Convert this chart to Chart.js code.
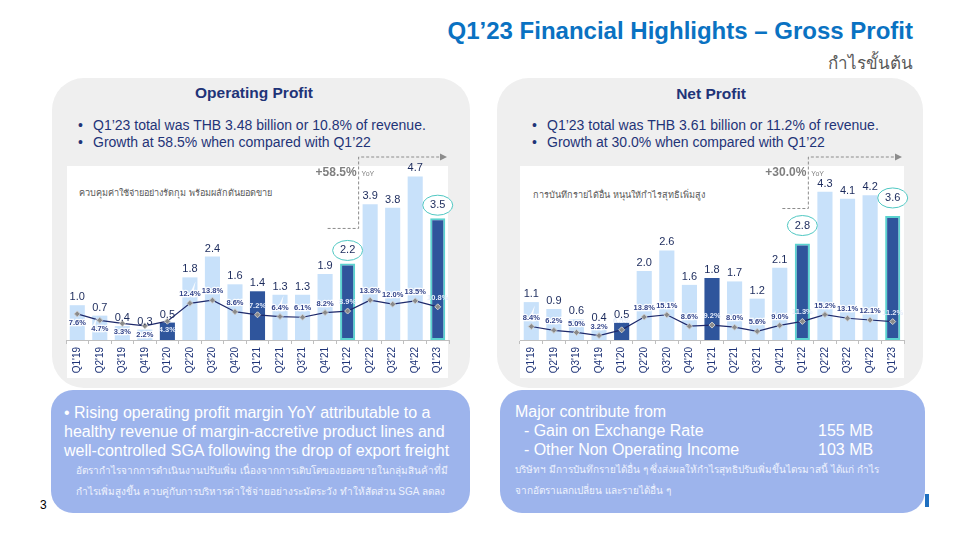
<!DOCTYPE html>
<html>
<head>
<meta charset="utf-8">
<script src="https://cdn.jsdelivr.net/npm/chart.js@4.4.0/dist/chart.umd.min.js"></script>
<style>
  body { margin: 0; width: 960px; height: 540px; background: #fff; position: relative; overflow: hidden;
         font-family: "Liberation Sans", Arial, sans-serif; }
  .abs { position: absolute; }
  .title { right: 47px; top: 17px; font-size: 24px; font-weight: bold; color: #0a72c2; }
  .subtitle { right: 47px; top: 49px; font-size: 17px; color: #595959; }
  .card { background: #efefef; border-radius: 32px; }
  .plot { background: #fff; }
  .ptitle { font-size: 15.5px; font-weight: bold; color: #1f3478; text-align: center; }
  .bullets { font-size: 14px; color: #1f3478; line-height: 17px; }
  .bullets div { position: relative; padding-left: 15px; }
  .bullets div::before { content: "•"; position: absolute; left: 0; }
  .note { font-size: 9.1px; color: #595959; }
  .blue { background: #9db4ec; border-radius: 22px; color: #fff; }
  .en { font-size: 16px; line-height: 19px; }
  .th { font-size: 10px; line-height: 21px; color: #eef2fd; }
</style>
</head>
<body>
<script>
// quarters shown on the x axis
const quarters = ["Q1'19","Q2'19","Q3'19","Q4'19","Q1'20","Q2'20","Q3'20","Q4'20",
                  "Q1'21","Q2'21","Q3'21","Q4'21","Q1'22","Q2'22","Q3'22","Q4'22","Q1'23"];
// operating profit, THB billion, and margin %
const opProfit = [1.0, 0.7, 0.4, 0.3, 0.5, 1.8, 2.4, 1.6, 1.4, 1.3, 1.3, 1.9, 2.2, 3.9, 3.8, 4.7, 3.5];
const opMargin = [7.6, 4.7, 3.3, 2.2, 4.3, 12.4, 13.8, 8.6, 7.2, 6.4, 6.1, 8.2, 8.9, 13.8, 12.0, 13.5, 10.8];
// net profit, THB billion, and margin %
const netProfit = [1.1, 0.9, 0.6, 0.4, 0.5, 2.0, 2.6, 1.6, 1.8, 1.7, 1.2, 2.1, 2.8, 4.3, 4.1, 4.2, 3.6];
const netMargin = [8.4, 6.2, 5.0, 3.2, 6.5, 13.8, 15.1, 8.6, 9.2, 8.0, 5.6, 9.0, 11.3, 15.2, 13.1, 12.1, 11.2];
// Q1 bars drawn dark, and the two compared quarters circled
const highlightIdx = [4, 8, 12, 16];
const circledIdx = [12, 16];
</script>

<div class="abs title">Q1’23 Financial Highlights – Gross Profit</div>
<div class="abs subtitle">กำไรขั้นต้น</div>

<div class="abs card" style="left:52px;top:78px;width:418px;height:310px"></div>
<div class="abs card" style="left:497px;top:78px;width:426px;height:310px"></div>
<div class="abs plot" style="left:67px;top:166px;width:381px;height:212px"></div>
<div class="abs plot" style="left:520px;top:166px;width:384px;height:212px"></div>

<div class="abs ptitle" style="left:52px;top:84px;width:404px">Operating Profit</div>
<div class="abs ptitle" style="left:497px;top:85px;width:428px">Net Profit</div>

<div class="abs bullets" style="left:78px;top:117px">
  <div>Q1’23 total was THB 3.48 billion or 10.8% of revenue.</div>
  <div>Growth at 58.5% when compared with Q1’22</div>
</div>
<div class="abs bullets" style="left:532px;top:117px">
  <div>Q1’23 total was THB 3.61 billion or 11.2% of revenue.</div>
  <div>Growth at 30.0% when compared with Q1’22</div>
</div>

<div class="abs note" style="left:79px;top:186px">ควบคุมค่าใช้จ่ายอย่างรัดกุม พร้อมผลักดันยอดขาย</div>
<div class="abs note" style="left:533px;top:188px">การบันทึกรายได้อื่น หนุนให้กำไรสุทธิเพิ่มสูง</div>

<canvas id="opChart" class="abs" width="410" height="234" style="left:56px;top:146px"></canvas>
<canvas id="netChart" class="abs" width="410" height="234" style="left:510px;top:146px"></canvas>

<div class="abs blue" style="left:51px;top:390px;width:419px;height:123px"></div>
<div class="abs blue" style="left:500px;top:390px;width:425px;height:123px"></div>

<div class="abs en" style="left:64px;top:403px;color:#fff">• Rising operating profit margin YoY attributable to a<br>healthy revenue of margin-accretive product lines and<br>well-controlled SGA following the drop of export freight</div>
<div class="abs th" style="left:76px;top:460px">อัตรากำไรจากการดำเนินงานปรับเพิ่ม เนื่องจากการเติบโตของยอดขายในกลุ่มสินค้าที่มี<br>กำไรเพิ่มสูงขึ้น ควบคู่กับการบริหารค่าใช้จ่ายอย่างระมัดระวัง ทำให้สัดส่วน SGA ลดลง</div>

<div class="abs en" style="left:515px;top:402px;color:#fff">Major contribute from<br>&nbsp;&nbsp;- Gain on Exchange Rate<br>&nbsp;&nbsp;- Other Non Operating Income</div>
<div class="abs en" style="left:818px;top:421px;color:#fff">155 MB<br>103 MB</div>
<div class="abs th" style="left:515px;top:459px">บริษัทฯ มีการบันทึกรายได้อื่น ๆ ซึ่งส่งผลให้กำไรสุทธิปรับเพิ่มขึ้นไตรมาสนี้ ได้แก่ กำไร<br>จากอัตราแลกเปลี่ยน และรายได้อื่น ๆ</div>

<div class="abs" style="left:40px;top:498px;font-size:12px;color:#000">3</div>
<div class="abs" style="left:925px;top:494px;width:4px;height:13px;background:#1f6fc0"></div>

<script>
// labels, circles and the YoY bracket
const labelsPlugin = {
  id: 'valueLabels',
  afterDatasetsDraw(chart, args, o) {
    const ctx = chart.ctx;
    const bars = chart.getDatasetMeta(0).data;
    const pts = chart.getDatasetMeta(1).data;
    const vals = chart.data.datasets[0].data;
    const pcts = chart.data.datasets[1].data;
    ctx.save();
    ctx.textAlign = 'center';
    ctx.textBaseline = 'middle';

    // margin labels
    ctx.font = 'bold 7.5px "Liberation Sans", Arial';
    pts.forEach((p, i) => {
      const txt = pcts[i].toFixed(1) + '%';
      const y = i < o.belowUntil ? p.y + 9 : p.y - 9;
      const dark = highlightIdx.includes(i);
      if (!dark) {
        ctx.lineWidth = 2.5;
        ctx.strokeStyle = 'rgba(255,255,255,0.9)';
        ctx.strokeText(txt, p.x, y);
      }
      ctx.fillStyle = dark ? '#e4ecfb' : '#34458a';
      ctx.fillText(txt, p.x, y);
    });

    // bar values
    ctx.font = '11px "Liberation Sans", Arial';
    bars.forEach((b, i) => {
      const circ = circledIdx.includes(i);
      const y = b.y - (circ ? o.circleOff : 8);
      if (circ) {
        ctx.beginPath();
        ctx.ellipse(b.x, y, 15, 10, 0, 0, Math.PI * 2);
        ctx.fillStyle = '#fff';
        ctx.fill();
        ctx.strokeStyle = '#4fc7c2';
        ctx.lineWidth = 1;
        ctx.stroke();
      }
      ctx.fillStyle = '#1b2a5c';
      ctx.fillText(vals[i].toFixed(1), b.x, y);
    });

    // YoY bracket
    const ca = chart.chartArea;
    const b12 = bars[12];
    const vx = b12.x + o.vxOff;
    const topY = ca.top - 9;
    const lowY = b12.y - 35;
    const tipX = ca.right - 2;
    ctx.strokeStyle = '#8c8c8c';
    ctx.lineWidth = 1;
    ctx.setLineDash([3, 2]);
    ctx.beginPath();
    ctx.moveTo(b12.x - 20, lowY);
    ctx.lineTo(vx, lowY);
    ctx.lineTo(vx, topY);
    ctx.lineTo(tipX - 6, topY);
    ctx.stroke();
    ctx.setLineDash([]);
    ctx.fillStyle = '#8c8c8c';
    ctx.beginPath();
    ctx.moveTo(tipX, topY);
    ctx.lineTo(tipX - 7, topY - 3.5);
    ctx.lineTo(tipX - 7, topY + 3.5);
    ctx.closePath();
    ctx.fill();

    ctx.textAlign = 'right';
    ctx.font = 'bold 12px "Liberation Sans", Arial';
    ctx.fillStyle = '#7f7f7f';
    ctx.fillText(o.yoy, vx - 2, topY + 16);
    ctx.textAlign = 'left';
    ctx.font = '7px "Liberation Sans", Arial';
    ctx.fillText('YoY', vx + 3, topY + 17);
    ctx.restore();
  }
};

function makeChart(id, profit, margin, cfg) {
  const barColors = profit.map((v, i) => highlightIdx.includes(i) ? '#2f559c' : '#c8e1fa');
  const borderW = profit.map((v, i) => circledIdx.includes(i) ? 2 : 0);
  return new Chart(document.getElementById(id), {
    type: 'bar',
    data: {
      labels: quarters,
      datasets: [{
        type: 'bar',
        data: profit,
        yAxisID: 'y',
        backgroundColor: barColors,
        borderColor: '#5bd3d0',
        borderWidth: borderW,
        borderSkipped: false,
        categoryPercentage: 1,
        barPercentage: 0.67,
        order: 2
      }, {
        type: 'line',
        data: margin,
        yAxisID: 'y2',
        borderColor: '#1f2a6b',
        borderWidth: 1.2,
        tension: 0,
        pointStyle: 'rectRot',
        pointRadius: 3,
        pointBackgroundColor: '#8a8a8a',
        pointBorderColor: '#cfcfcf',
        pointBorderWidth: 1,
        order: 1
      }]
    },
    options: {
      responsive: false,
      animation: false,
      layout: { padding: { left: 10, right: cfg.padRight, top: 20, bottom: 0 } },
      plugins: {
        legend: { display: false },
        tooltip: { enabled: false },
        valueLabels: cfg.labels
      },
      scales: {
        x: {
          afterFit: s => { s.height = 40; },
          grid: { display: true, drawOnChartArea: false, color: '#bfbfbf', tickLength: 4, offset: true },
          border: { color: '#bfbfbf' },
          ticks: {
            minRotation: 90, maxRotation: 90, padding: 3, autoSkip: false,
            color: '#1f3478', font: { family: '"Liberation Sans", Arial', size: 10 }
          }
        },
        y: { display: false, min: 0, max: cfg.yMax },
        y2: { display: false, min: cfg.mMin, max: cfg.mMax }
      }
    },
    plugins: [labelsPlugin]
  });
}

makeChart('opChart', opProfit, opMargin, {
  padRight: 17, yMax: 5.0, mMin: -4.2, mMax: 74.5,
  labels: { belowUntil: 5, circleOff: 13, vxOff: 11, yoy: '+58.5%' }
});
makeChart('netChart', netProfit, netMargin, {
  padRight: 16, yMax: 5.05, mMin: 0.7, mMax: 100,
  labels: { belowUntil: 0, circleOff: 18, vxOff: 6, yoy: '+30.0%' }
});
</script>
</body>
</html>
